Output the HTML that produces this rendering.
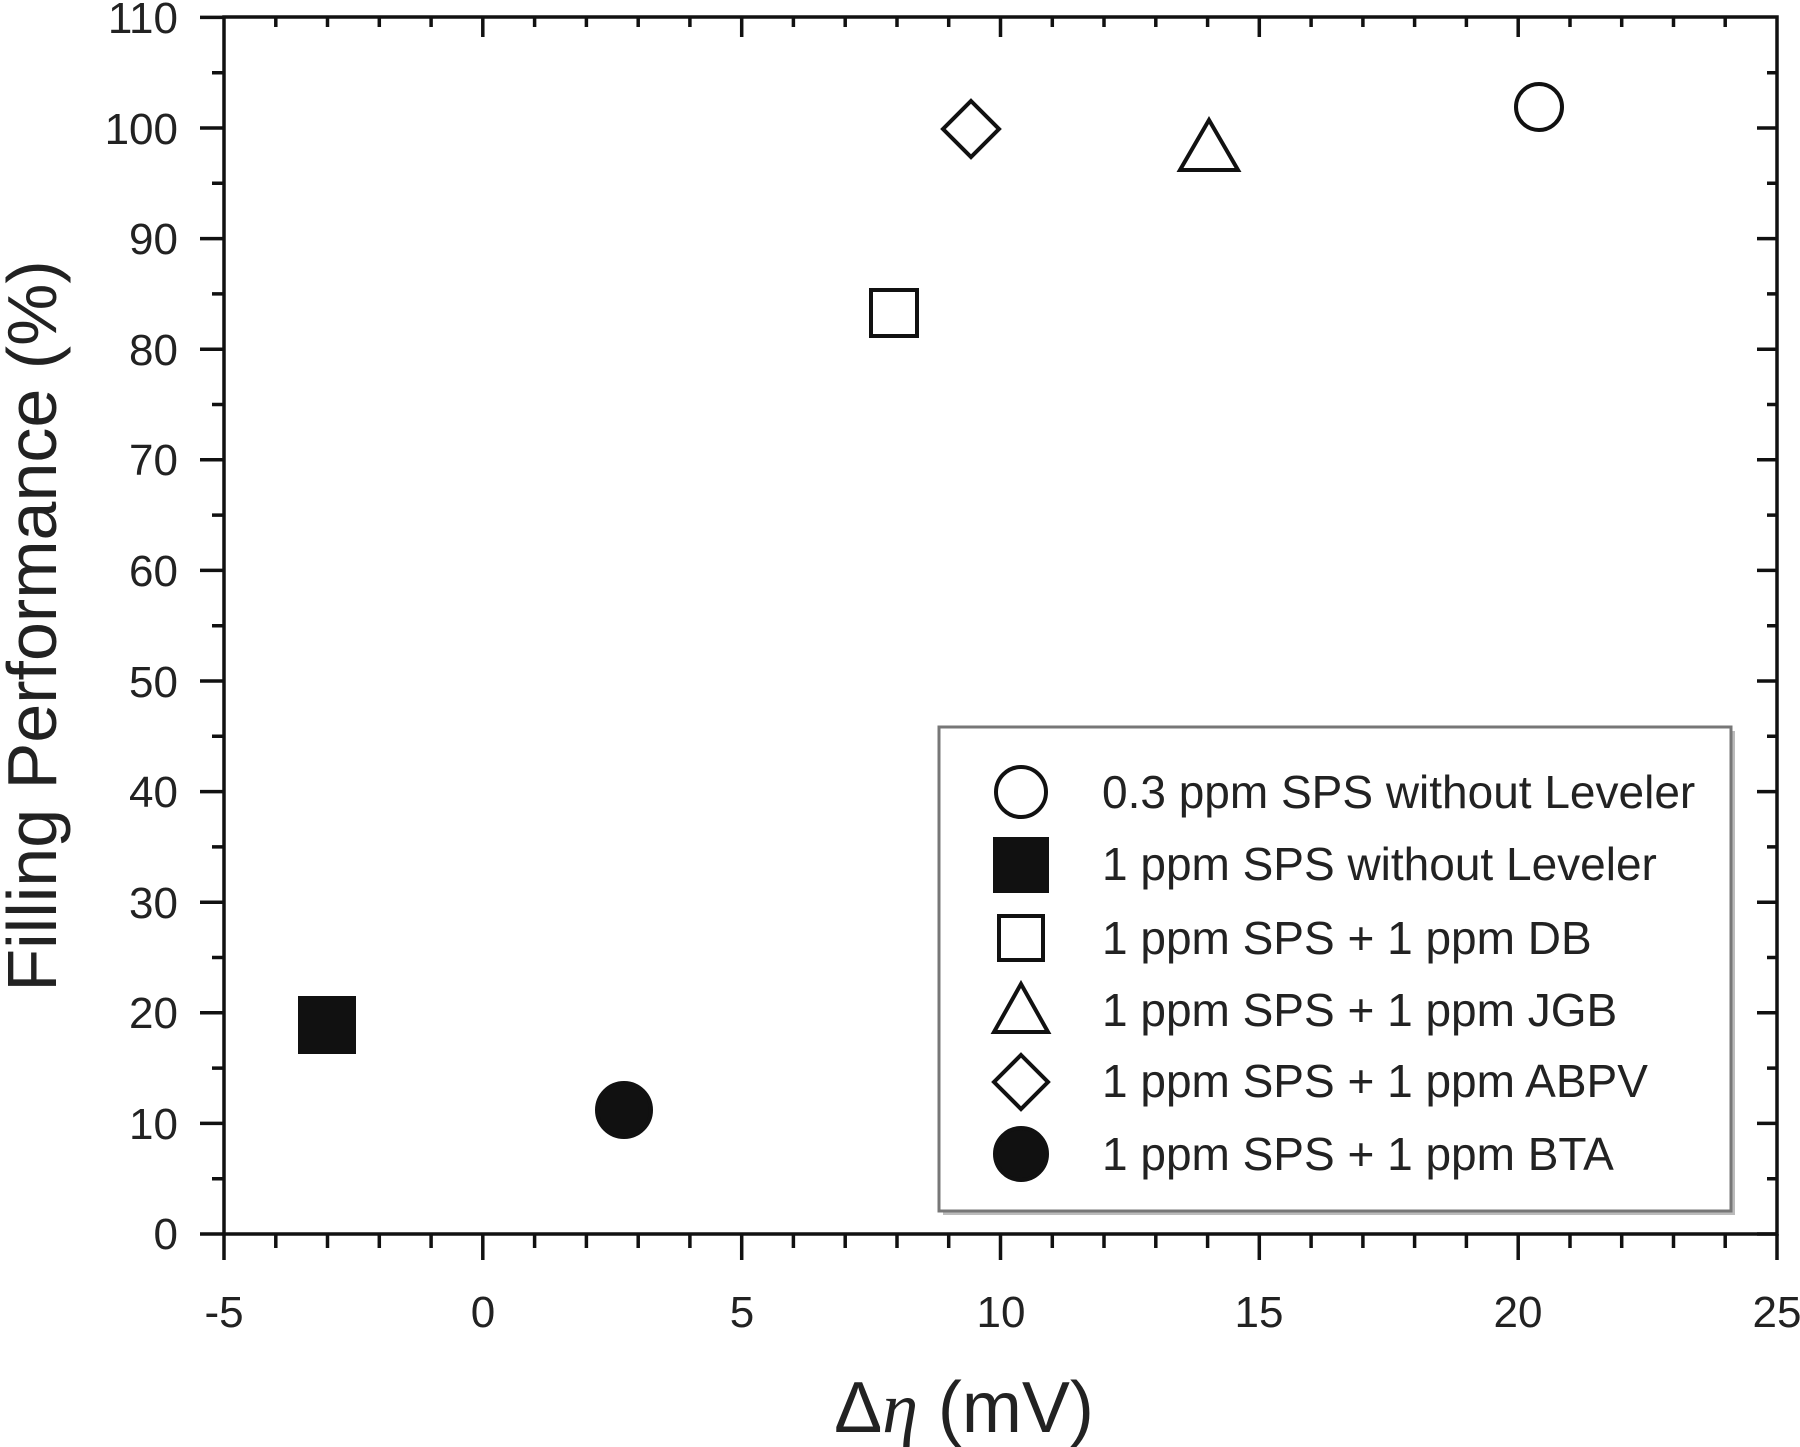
<!DOCTYPE html>
<html><head><meta charset="utf-8"><style>html,body{margin:0;padding:0;background:#fff}svg{display:block}</style></head>
<body>
<svg width="1800" height="1447" viewBox="0 0 1800 1447" xmlns="http://www.w3.org/2000/svg" font-family="Liberation Sans, Arial, sans-serif">
<rect width="1800" height="1447" fill="#fff"/>
<g stroke="#111" stroke-width="3.5" fill="none">
<rect x="224" y="17" width="1553" height="1217"/>
</g>
<g stroke="#111" stroke-width="3.5">
<path d="
M224 1234h-24 M224 1123.4h-24 M224 1012.8h-24 M224 902.2h-24 M224 791.6h-24 M224 681h-24 M224 570.4h-24 M224 459.8h-24 M224 349.2h-24 M224 238.6h-24 M224 128h-24 M224 17.4h-24
M224 1178.7h-12 M224 1068.1h-12 M224 957.5h-12 M224 846.9h-12 M224 736.3h-12 M224 625.7h-12 M224 515.1h-12 M224 404.5h-12 M224 293.9h-12 M224 183.3h-12 M224 72.7h-12
M1777 1234h-20 M1777 1123.4h-20 M1777 1012.8h-20 M1777 902.2h-20 M1777 791.6h-20 M1777 681h-20 M1777 570.4h-20 M1777 459.8h-20 M1777 349.2h-20 M1777 238.6h-20 M1777 128h-20
M1777 1178.7h-10 M1777 1068.1h-10 M1777 957.5h-10 M1777 846.9h-10 M1777 736.3h-10 M1777 625.7h-10 M1777 515.1h-10 M1777 404.5h-10 M1777 293.9h-10 M1777 183.3h-10 M1777 72.7h-10
"/>
<path d="
M224 1234v26 M482.8 1234v26 M741.7 1234v26 M1000.5 1234v26 M1259.3 1234v26 M1518.2 1234v26 M1777 1234v26
M275.8 1234v14 M327.5 1234v14 M379.3 1234v14 M431.1 1234v14 M534.6 1234v14 M586.4 1234v14 M638.2 1234v14 M689.9 1234v14 M793.4 1234v14 M845.2 1234v14 M897 1234v14 M948.7 1234v14 M1052.3 1234v14 M1104 1234v14 M1155.8 1234v14 M1207.6 1234v14 M1311.1 1234v14 M1362.9 1234v14 M1414.6 1234v14 M1466.4 1234v14 M1570 1234v14 M1621.7 1234v14 M1673.5 1234v14 M1725.2 1234v14
M482.8 17v20 M741.7 17v20 M1000.5 17v20 M1259.3 17v20 M1518.2 17v20
M275.8 17v10 M327.5 17v10 M379.3 17v10 M431.1 17v10 M534.6 17v10 M586.4 17v10 M638.2 17v10 M689.9 17v10 M793.4 17v10 M845.2 17v10 M897 17v10 M948.7 17v10 M1052.3 17v10 M1104 17v10 M1155.8 17v10 M1207.6 17v10 M1311.1 17v10 M1362.9 17v10 M1414.6 17v10 M1466.4 17v10 M1570 17v10 M1621.7 17v10 M1673.5 17v10 M1725.2 17v10
"/>
</g>
<g font-size="44" fill="#222" text-anchor="end">
<text x="178" y="1249">0</text><text x="178" y="1139">10</text><text x="178" y="1028">20</text><text x="178" y="918">30</text><text x="178" y="807">40</text><text x="178" y="697">50</text><text x="178" y="586">60</text><text x="178" y="475">70</text><text x="178" y="365">80</text><text x="178" y="254">90</text><text x="178" y="144">100</text><text x="178" y="33">110</text>
</g>
<g font-size="44" fill="#222" text-anchor="middle">
<text x="224" y="1327">-5</text><text x="483" y="1327">0</text><text x="742" y="1327">5</text><text x="1001" y="1327">10</text><text x="1259" y="1327">15</text><text x="1518" y="1327">20</text><text x="1777" y="1327">25</text>
</g>
<text transform="translate(56,626) rotate(-90)" font-size="70" fill="#222" text-anchor="middle">Filling Performance (%)</text>
<text x="964" y="1432" font-size="72" fill="#222" text-anchor="middle">Δ<tspan font-family="Liberation Serif, serif" font-style="italic">η</tspan> (mV)</text>
<g stroke="#111" stroke-width="4">
<circle cx="1539" cy="107" r="23" fill="#fff"/>
<rect x="300" y="998" width="54" height="54" fill="#111"/>
<rect x="871" y="290" width="46" height="46" fill="#fff"/>
<path d="M1209 120 L1238 170 L1180 170 Z" fill="#fff"/>
<path d="M971 101 L999 129 L971 157 L943 129 Z" fill="#fff"/>
<circle cx="624" cy="1110" r="27" fill="#111"/>
</g>
<rect x="943" y="731" width="792" height="484" fill="#bbb"/>
<rect x="939" y="727" width="792" height="484" fill="#fff" stroke="#777" stroke-width="3"/>
<g stroke="#111" stroke-width="4">
<circle cx="1021" cy="792" r="25" fill="#fff"/>
<rect x="995" y="839" width="52" height="52" fill="#111"/>
<rect x="999" y="916" width="44" height="44" fill="#fff"/>
<path d="M1021 984 L1048 1032 L994 1032 Z" fill="#fff"/>
<path d="M1021 1055 L1048 1082 L1021 1109 L994 1082 Z" fill="#fff"/>
<circle cx="1021" cy="1154" r="26" fill="#111"/>
</g>
<g font-size="46" fill="#222">
<text x="1102" y="808">0.3 ppm SPS without Leveler</text>
<text x="1102" y="880">1 ppm SPS without Leveler</text>
<text x="1102" y="954">1 ppm SPS + 1 ppm DB</text>
<text x="1102" y="1026">1 ppm SPS + 1 ppm JGB</text>
<text x="1102" y="1097">1 ppm SPS + 1 ppm ABPV</text>
<text x="1102" y="1170">1 ppm SPS + 1 ppm BTA</text>
</g>
</svg>
</body></html>
